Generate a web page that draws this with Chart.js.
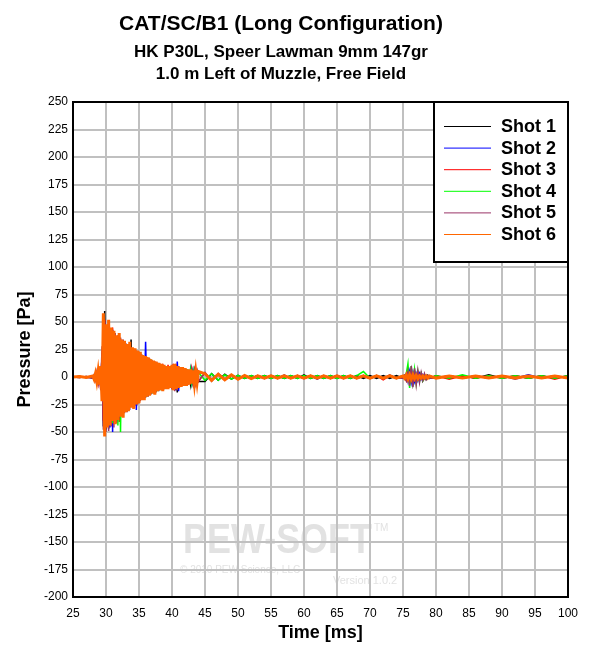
<!DOCTYPE html>
<html>
<head>
<meta charset="utf-8">
<script src="https://cdn.jsdelivr.net/npm/chart.js@4.4.0/dist/chart.umd.min.js"></script>
<style>
body { margin: 0; background: #fff; }
#wrap { width: 595px; height: 655px; position: relative; }
</style>
</head>
<body>
<div id="wrap"><canvas id="pressureChart"></canvas></div>
<script>
// time axis [ms], dense around the muzzle blast, coarse elsewhere
var timeMs = [
  25, 26, 27,
  28, 28.2, 28.4, 28.6, 28.8, 29, 29.2, 29.4, 29.6, 29.8,
  30, 30.2, 30.4, 30.6, 30.8, 31, 31.2, 31.4, 31.6, 31.8,
  32, 32.2, 32.4, 32.6, 32.8, 33, 33.2, 33.4, 33.6, 33.8,
  34, 34.2, 34.4, 34.6, 34.8, 35, 35.2, 35.4, 35.6, 35.8,
  36, 36.2, 36.4, 36.6, 36.8, 37, 37.2, 37.4, 37.6, 37.8,
  38, 38.2, 38.4, 38.6, 38.8, 39, 39.2, 39.4, 39.6, 39.8,
  40, 40.2, 40.4, 40.6, 40.8, 41, 41.2, 41.4, 41.6, 41.8,
  42, 42.2, 42.4, 42.6, 42.8, 43, 43.2, 43.4, 43.6, 43.8,
  44,
  45, 46, 47, 48, 49, 50, 51, 52, 53, 54,
  55, 56, 57, 58, 59, 60, 61, 62, 63, 64,
  65, 66, 67, 68, 69, 70, 71, 72, 73, 74,
  75, 75.25, 75.5, 75.75, 76, 76.25, 76.5, 76.75, 77, 77.25, 77.5, 77.75, 78, 78.25, 78.5, 78.75, 79,
  80, 82, 84, 86, 88, 90, 92, 94, 96, 98, 100
];

// pressure [Pa]
var shot1 = [
  0, -0.5, 0.5,
  -1, 1, -2, 3, -4, 6, -9, 20, -45, 60,
  -48, 46, -47, 44, -42, 43, -38, 40, -37, 36,
  -35, 34, -33, 31, -32, 29, -30, 28, -27, 34,
  -26, 25, -24, 23, -23, 22, -20, 19, -20, 18,
  -17, 17, -16, 15, -15, 14, -14, 13, -12, 12,
  -11, 11, -11, 10, -10, 9, -10, 9, -9, 9,
  -10, 11, -12, 10, -14, 9, -9, 8, -8, 7,
  -7, 7, -6, 6, -6, 5, -5, 5, -4, 4,
  -4,
  -4, 3, -3, 2.5, -2, 1.5, -1.2, 1.2, -1.2, 1.2,
  -1.2, 1.2, -1.2, 1.2, -1.2, 2, -1.2, 1.2, -1.2, 1.2,
  -1.2, 1.2, -1.2, 1.2, -1.2, 1.2, -1.2, 1.2, -1.2, 1.2,
  -1.2, 1.2, -3, 4, -5, 6, -6, 5, -4, 4, -3, 3, -3, 2, -2, 1.5, -1.2,
  1.2, -1.2, 1.2, -1.2, 2, -1.2, 1.2, -1.2, 1.2, -1.2, 1.2
];
var shot2 = [
  0, 0.5, -0.5,
  0.5, -1, 2, -3, 4, -6, 9, -18, 50, -50,
  46, -44, 43, -46, 41, -50, 39, -38, 37, -36,
  35, -34, 32, -31, 30, -30, 29, -28, 27, -26,
  25, -24, 24, -30, 22, -21, 21, -20, 19, -19,
  32, -17, 16, -16, 15, -14, 14, -13, 13, -12,
  12, -11, 11, -11, 10, -10, 10, -9, 9, -9,
  10, -10, 11, -12, 14, -13, 9, -8, 8, -8,
  7, -7, 6, -6, 6, -5, 5, -5, 4, -4,
  4,
  3, -3, 3, -2, 2, -1.5, 1.2, -1.2, 1.2, -1.2,
  1.2, -1.2, 1.2, -1.2, 1.2, -1.2, 1.2, -2, 1.2, -1.2,
  1.2, -1.2, 1.2, -1.2, 1.2, -1.2, 1.2, -1.2, 1.2, -1.2,
  1.2, -1.2, 3, -4, 5, -5, 4, -4, 3, -3, 3, -2, 2, -1.5, 1.2, -1.2, 1.2,
  -1.2, 1.2, -1.2, 1.2, -1.2, 1.2, -1.2, 2, -1.2, 1.2, -1.2
];
var shot3 = [
  0, -0.5, 0.5,
  -0.5, 1.5, -2, 3, -5, 7, -11, 22, -40, 52,
  -45, 47, -42, 44, -41, 45, -39, 38, -40, 37,
  -41, 35, -32, 33, -31, 30, -29, 30, -27, 26,
  -25, 26, -24, 23, -22, 23, -21, 20, -19, 19,
  -18, 18, -17, 17, -15, 15, -14, 14, -13, 13,
  -12, 12, -11, 12, -10, 10, -10, 11, -9, 10,
  -11, 12, -11, 11, -10, 10, -9, 9, -8, 8,
  -7, 7, -7, 6, -6, 6, -5, 5, -5, 4,
  -4,
  4, -3, 3, -2.5, 2, -1.5, 1.2, -1.2, 1.2, -1.2,
  1.2, -1.2, 1.2, -1.2, 1.2, -1.2, 1.2, -1.2, 1.2, -1.2,
  1.2, -1.2, 1.2, -1.2, 1.2, -1.2, 1.2, -2.5, 1.2, -1.2,
  -1.2, 1.2, -3, 4, -4, 4, -3, 3, -3, 2, -3, 2, -2, 1.5, -1.2, 1.2, -1.2,
  1.2, -2, 1.2, -1.2, 1.2, -1.2, 1.2, -1.2, 1.2, -2, 1.2
];
var shot4 = [
  0, 0.5, -0.5,
  0.5, -1.5, 2, -3, 4, -6, 10, -20, 48, -46,
  44, -45, 42, -43, 41, -42, 40, -41, 37, -44,
  40, -50, 33, -32, 31, -30, 29, -29, 28, -27,
  26, -25, 24, -24, 23, -22, 21, -21, 20, -19,
  18, -18, 17, -16, 16, -15, 14, -14, 13, -13,
  12, -12, 11, -11, 10, -10, 10, -9, 10, -9,
  10, -10, 11, -10, 10, -9, 9, -9, 8, -7,
  7, -7, 7, -6, 6, -5, 5, -5, 4, -4,
  4,
  -3, 3, -3, 2, -2, 1.5, -1.2, 1.2, -1.2, 1.2,
  -1.2, 1.2, -1.2, 1.2, -1.2, 1.2, -1.2, 1.2, -1.2, 1.2,
  -1.2, 1.2, -1.2, 1.2, 5, -1.2, 1.2, -1.2, 1.2, -1.2,
  1.2, -1.2, 3, 12, -10, 10, -8, 7, -6, 5, -4, 3, -3, 2, -1.5, 1.2, -1.2,
  1.2, -1.2, 2, -1.2, 1.2, -1.2, 1.2, -1.2, 1.2, -1.2, 1.2
];
var shot5 = [
  0, 0.5, -0.5,
  -1, 2, -3, 4, -5, 6, -12, 28, -48, 50,
  -50, 44, -49, 43, -45, 41, -46, 40, -42, 38,
  -37, 36, -35, 34, -33, 31, -32, 29, -30, 27,
  -27, 25, -26, 24, -25, 22, -22, 21, -20, 19,
  -19, 18, -18, 16, -16, 15, -15, 14, -14, 13,
  -13, 12, -12, 11, -11, 10, -10, 10, -10, 9,
  -11, 11, -13, 12, -12, 10, -9, 9, -8, 8,
  -7, 7, -7, 6, -6, 6, -5, 5, -5, 4,
  -4,
  4, -4, 3, -3, 2, -1.5, 1.2, -1.2, 1.2, -1.2,
  1.2, -1.2, 2, -1.2, 1.2, -1.2, 1.2, -1.2, 1.2, -1.2,
  1.2, -1.2, 1.2, -1.2, 1.2, -1.2, 1.2, -1.2, 2, -1.2,
  -1.2, 1.2, -3, 5, -8, 10, -9, 8, -7, 6, -5, 4, -3, 3, -2, 1.5, -1.2,
  -1.2, 1.2, -1.2, 1.2, -1.2, 1.2, -2, 1.2, -1.2, 1.2, -1.2
];
var shot6 = [
  0, 0.5, -0.5,
  1, -2, 3, -4, 5, -7, 10, -22, 58, -54,
  48, -46, 52, -44, 45, -40, 42, -43, 38, -39,
  40, -36, 34, -37, 33, -32, 30, -31, 32, -28,
  27, -29, 26, -25, 24, -24, 23, -21, 20, -21,
  19, -18, 18, -17, 16, -15, 15, -16, 14, -13,
  13, -12, 12, -13, 11, -11, 10, -11, 10, -10,
  11, -12, 12, -11, 10, -10, 9, -9, 9, -8,
  8, -8, 7, -7, 7, -6, 6, -6, 5, -5,
  5,
  3, -3, 2.5, -2.5, 2, -2, 1.5, -1.5, 1, -1,
  1, -1, 1, -1, 1, -1, 1, -1, 1, -1,
  1, -1, 1, -1, 1, -1, 1, -1, 1, -1,
  1, -1, 2, -2, 2, -2, 2, -1.5, 1.5, -1.5, 1, -1, 1, -1, 1, -1, 1,
  -1, 1, -1, 1, -1, 1, -1, 1, -1, 1, -1
];

var shotLabels = ["Shot 1", "Shot 2", "Shot 3", "Shot 4", "Shot 5", "Shot 6"];
var shotValues = [shot1, shot2, shot3, shot4, shot5, shot6];
var shotColors = ["#000000", "#0000ff", "#ff0000", "#00ff00", "#993366", "#ff6600"];

var FONT = '"Liberation Sans", Arial, sans-serif';
Chart.defaults.font.family = FONT;
Chart.defaults.color = "#000";

var datasets = [];
for (var s = 0; s < shotValues.length; s++) {
  var pts = [];
  for (var i = 0; i < timeMs.length; i++) pts.push({ x: timeMs[i], y: shotValues[s][i] });
  datasets.push({
    label: shotLabels[s],
    data: pts,
    borderColor: shotColors[s],
    borderWidth: s == 5 ? 3 : 1.5,
    pointRadius: 0,
    tension: 0,
    fill: false,
    order: shotValues.length - s   // shot 6 ends up on top
  });
}

// titles, watermark, frame and legend box
var decor = {
  id: "decor",
  beforeDraw: function (chart) {
    var ctx = chart.ctx;
    ctx.save();
    ctx.fillStyle = "#fff";
    ctx.fillRect(0, 0, chart.width, chart.height);
    ctx.fillStyle = "#e2e2e2";
    ctx.textBaseline = "alphabetic";
    ctx.font = "bold 42px " + FONT;
    ctx.fillText("PEW-SOFT", 183, 553, 189);
    ctx.font = "10px " + FONT;
    ctx.fillText("TM", 374, 531);
    ctx.fillText("\u00a9 2010 PEW Science, LLC", 180, 573, 124);
    ctx.font = "11px " + FONT;
    ctx.fillText("Version 1.0.2", 333, 584);
    ctx.restore();
  },
  afterDatasetsDraw: function (chart) {
    var ctx = chart.ctx, a = chart.chartArea;
    ctx.save();
    ctx.strokeStyle = "#000";
    ctx.lineWidth = 2;
    ctx.strokeRect(a.left, a.top, a.right - a.left, a.bottom - a.top);

    var bx = 434, by = a.top, bw = a.right - bx, bh = 160;
    ctx.fillStyle = "#fff";
    ctx.fillRect(bx, by, bw, bh);
    ctx.strokeRect(bx, by, bw, bh);
    ctx.font = "bold 18px " + FONT;
    ctx.textBaseline = "middle";
    chart.data.datasets.forEach(function (d, i) {
      var yy = by + 24 + i * 21.6;
      ctx.strokeStyle = d.borderColor;
      ctx.lineWidth = 1;
      ctx.beginPath();
      ctx.moveTo(444, yy + 0.5);
      ctx.lineTo(491, yy + 0.5);
      ctx.stroke();
      ctx.fillStyle = "#000";
      ctx.fillText(d.label, 501, yy + 1);
    });

    ctx.textAlign = "center";
    ctx.font = "bold 21px " + FONT;
    ctx.fillText("CAT/SC/B1 (Long Configuration)", 281, 24);
    ctx.font = "bold 17px " + FONT;
    ctx.fillText("HK P30L, Speer Lawman 9mm 147gr", 281, 52);
    ctx.fillText("1.0 m Left of Muzzle, Free Field", 281, 74);
    ctx.restore();
  }
};

var canvasPressure = document.getElementById("pressureChart");
var pressureChart = new Chart(canvasPressure, {
  type: "line",
  data: { datasets: datasets },
  options: {
    responsive: true,
    maintainAspectRatio: false,
    animation: false,
    events: [],
    layout: { padding: { top: 102, right: 27, left: 0, bottom: 0 } },
    plugins: { legend: { display: false }, title: { display: false }, tooltip: { enabled: false } },
    scales: {
      x: {
        type: "linear",
        min: 25,
        max: 100,
        afterFit: function (sc) { sc.height = 58; },
        ticks: { stepSize: 5, padding: 9, maxRotation: 0, autoSkip: false, font: { size: 12 } },
        grid: { color: "#c0c0c0", lineWidth: 2, drawTicks: false },
        border: { display: false },
        title: { display: true, text: "Time [ms]", font: { size: 18, weight: "bold" }, padding: { top: 0, bottom: 11 } }
      },
      y: {
        min: -200,
        max: 250,
        afterFit: function (sc) { sc.width = 73; },
        ticks: { stepSize: 25, padding: 5, autoSkip: false, font: { size: 12 } },
        grid: { color: "#c0c0c0", lineWidth: 2, drawTicks: false },
        border: { display: false },
        title: { display: true, text: "Pressure [Pa]", font: { size: 18, weight: "bold" }, padding: { top: 14, bottom: 0 } }
      }
    }
  },
  plugins: [decor]
});
</script>
</body>
</html>
